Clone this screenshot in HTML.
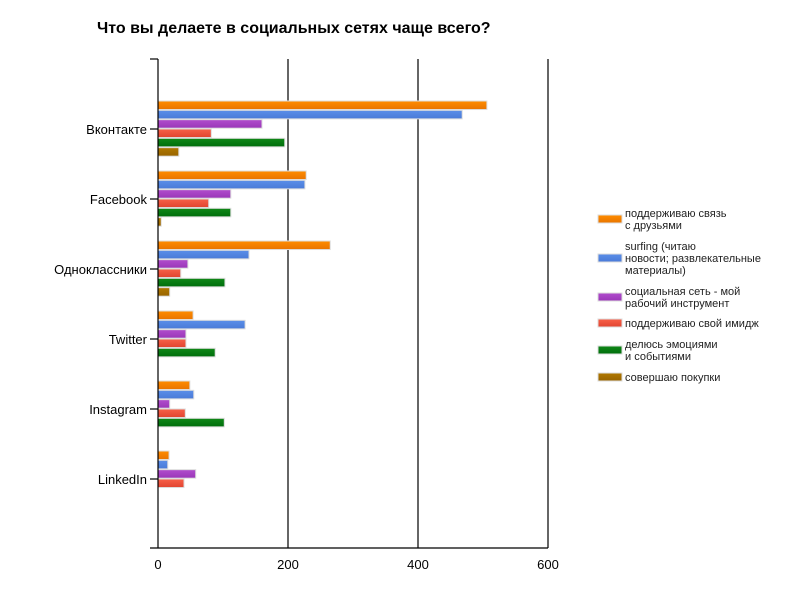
<!DOCTYPE html>
<html><head><meta charset="utf-8"><style>
body{margin:0;background:#fff;font-family:"Liberation Sans",sans-serif}
svg text{font-family:"Liberation Sans","DejaVu Sans",sans-serif}
</style></head><body>
<svg id="c" width="800" height="600">
<defs>
<linearGradient id="g0" x1="0" y1="0" x2="0" y2="1"><stop offset="0" stop-color="#ff8c00"/><stop offset="1" stop-color="#e87400"/></linearGradient>
<linearGradient id="g1" x1="0" y1="0" x2="0" y2="1"><stop offset="0" stop-color="#5a8ee8"/><stop offset="1" stop-color="#4a7ad8"/></linearGradient>
<linearGradient id="g2" x1="0" y1="0" x2="0" y2="1"><stop offset="0" stop-color="#b04ccc"/><stop offset="1" stop-color="#9a36b8"/></linearGradient>
<linearGradient id="g3" x1="0" y1="0" x2="0" y2="1"><stop offset="0" stop-color="#f86048"/><stop offset="1" stop-color="#e04430"/></linearGradient>
<linearGradient id="g4" x1="0" y1="0" x2="0" y2="1"><stop offset="0" stop-color="#108818"/><stop offset="1" stop-color="#006e0c"/></linearGradient>
<linearGradient id="g5" x1="0" y1="0" x2="0" y2="1"><stop offset="0" stop-color="#b07800"/><stop offset="1" stop-color="#986400"/></linearGradient>
</defs>
<text x="97" y="33" font-size="16" font-weight="bold">Что вы делаете в социальных сетях чаще всего?</text>
<g id="grid"></g><g id="bars"></g><g id="axes"></g><g id="legend"></g>
</svg>
<script>
const categories=["Вконтакте","Facebook","Одноклассники","Twitter","Instagram","LinkedIn"];
const seriesNames=[["поддерживаю связь","с друзьями"],["surfing (читаю","новости; развлекательные","материалы)"],["социальная сеть - мой","рабочий инструмент"],["поддерживаю свой имидж"],["делюсь эмоциями","и событиями"],["совершаю покупки"]];
const s0=[506,228,265,54,49,17];
const s1=[468,226,140,134,55,15];
const s2=[160,112,46,43,18,58];
const s3=[82,78,35,43,42,40];
const s4=[195,112,103,88,102,0];
const s5=[32,5,18,0,0,0];
const series=[s0,s1,s2,s3,s4,s5];
const ticks=[0,200,400,600];
const NS="http://www.w3.org/2000/svg";
const x=v=>158+v*0.65;
const yc=i=>129+i*70;
function mk(t,a,p){const e=document.createElementNS(NS,t);for(const k in a)e.setAttribute(k,a[k]);p.appendChild(e);return e;}
const grid=document.getElementById('grid'),bars=document.getElementById('bars'),axes=document.getElementById('axes'),leg=document.getElementById('legend');
ticks.forEach(t=>{
 if(t>0){const l=mk('line',{x1:x(t),x2:x(t),y1:59,y2:548,stroke:'#000','stroke-width':1.2},grid);
 
 }
 const tx=mk('text',{x:x(t),y:569,'font-size':13,'text-anchor':'middle'},axes);tx.textContent=t;
 
 
});
const bh=9.33;
series.forEach((s,j)=>{s.forEach((v,i)=>{
 if(v<=0)return;
 const r=mk('rect',{x:158,y:yc(i)-28+j*bh,width:x(v)-158,height:bh-0.8,fill:'url(#g'+j+')',stroke:'#ddd','stroke-width':1},bars);
 
 
});});
let a=mk('line',{x1:158,x2:158,y1:59,y2:548,stroke:'#000','stroke-width':1.2},axes);


a=mk('line',{x1:150,x2:548,y1:548,y2:548,stroke:'#000','stroke-width':1.2},axes);


mk('line',{x1:150,x2:158,y1:59,y2:59,stroke:'#000','stroke-width':1.2},axes);
categories.forEach((c,i)=>{
 mk('line',{x1:150,x2:158,y1:yc(i),y2:yc(i),stroke:'#000','stroke-width':1.2},axes);
 const t=mk('text',{x:147,y:yc(i)+5,'font-size':13,'text-anchor':'end'},axes);t.textContent=c;
 
 
});
const ly=[213,246,291,323,344,377];
seriesNames.forEach((n,j)=>{
 const g=mk('g',{},leg);
 
 
 const cy=ly[j]+(n.length-1)*6;
 mk('rect',{x:598,y:cy-4,width:24,height:8,fill:'url(#g'+j+')',stroke:'#ddd'},g);
 n.forEach((line,k)=>{const t=mk('text',{x:625,y:ly[j]+4+k*12,'font-size':11,fill:'#222'},g);t.textContent=line;});
});
</script>
</body></html>
